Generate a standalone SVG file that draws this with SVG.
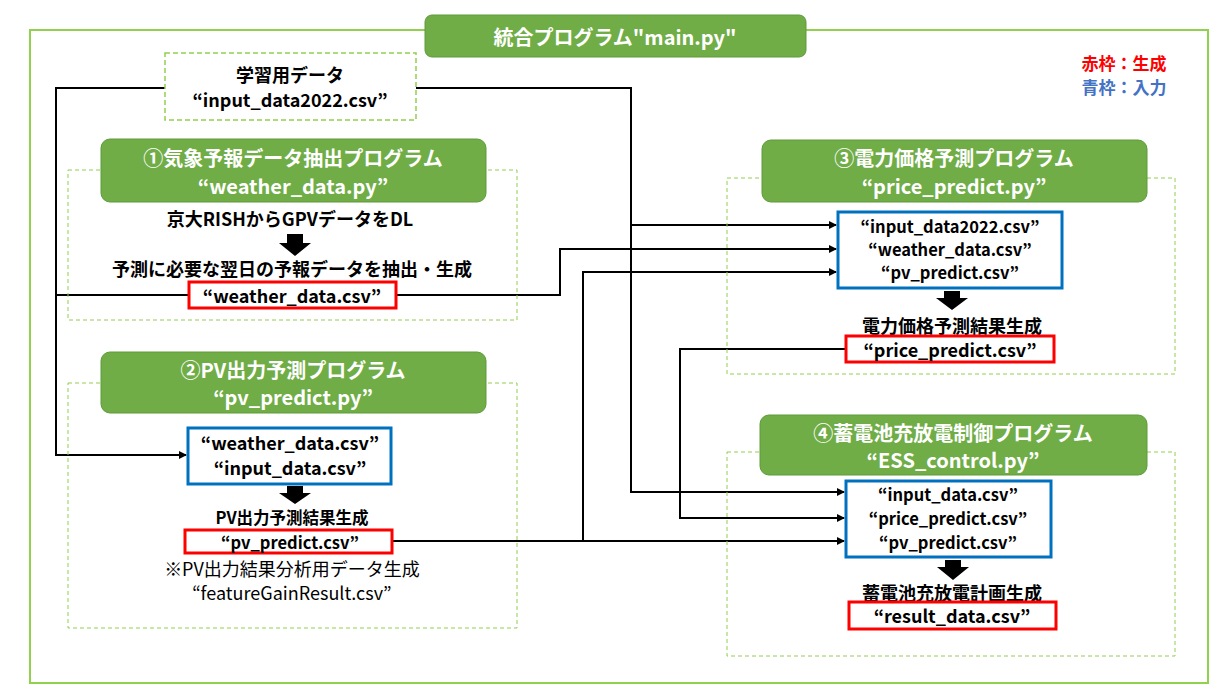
<svg xmlns="http://www.w3.org/2000/svg" width="1230" height="691" viewBox="0 0 1230 691">
<defs>
<marker id="ah" markerWidth="8" markerHeight="8" refX="7" refY="4" orient="auto" markerUnits="userSpaceOnUse"><path d="M0,0 L8,4 L0,8 z" fill="#000"/></marker>
<style>
text{font-family:"Noto Sans CJK JP","Liberation Sans",sans-serif;font-weight:bold;text-anchor:middle;dominant-baseline:central;font-size:18px;fill:#000}
.hd{fill:#70AD47;stroke:#5E9A3A;stroke-width:1}
.hdt{fill:#fff;font-size:20px}
.sm{font-size:16.5px}
.sec{fill:none;stroke:#92D050;stroke-width:1;stroke-dasharray:4 3}
.red{fill:#fff;stroke:#FF0000;stroke-width:3}
.blue{fill:#fff;stroke:#0070C0;stroke-width:3}
.c{fill:none;stroke:#000;stroke-width:2}
.ba{fill:#000}
</style>
</defs>
<rect x="30" y="30" width="1178" height="653" fill="#fff" stroke="#92D050" stroke-width="2"/>
<g id="title"><rect class="hd" x="425" y="15" width="381" height="42" rx="7"/><text class="hdt" x="615" y="36">統合プログラム"main.py"</text></g>
<g id="legend"><text x="1124" y="62" style="fill:#FF0000;font-size:17px">赤枠：生成</text><text x="1124" y="86" style="fill:#4472C4;font-size:17px">青枠：入力</text></g>
<g id="connectors">
<path class="c" d="M165,88 H56 V455 H186" marker-end="url(#ah)"/>
<path class="c" d="M189,295 H56"/>
<path class="c" d="M416,88 H631 V492 H844" marker-end="url(#ah)"/>
<path class="c" d="M631,225 H836" marker-end="url(#ah)"/>
<path class="c" d="M396,295 H560 V249 H836" marker-end="url(#ah)"/>
<path class="c" d="M392,541 H844" marker-end="url(#ah)"/>
<path class="c" d="M583,541 V272 H836" marker-end="url(#ah)"/>
<path class="c" d="M846,349 H680 V518 H844" marker-end="url(#ah)"/>
</g>
<g id="data"><rect x="165" y="53" width="251" height="67" fill="#fff" stroke="#92D050" stroke-width="1.5" stroke-dasharray="5 3"/><text x="290" y="74">学習用データ</text><text x="290" y="99">“input_data2022.csv”</text></g>
<g id="sec1">
<rect class="sec" x="68" y="170" width="449" height="150"/>
<rect class="hd" x="101" y="139" width="385" height="63" rx="9"/>
<text class="hdt" x="293" y="157">①気象予報データ抽出プログラム</text><text class="hdt" x="293" y="185">“weather_data.py”</text>
<text x="290" y="218">京大RISHからGPVデータをDL</text>
<path class="ba" d="M287,234 H303 V243 H311 L295,256 L279,243 H287 z"/>
<text x="292" y="268">予測に必要な翌日の予報データを抽出・生成</text>
<rect class="red" x="189" y="282" width="207" height="26"/><text x="292" y="295">“weather_data.csv”</text>
</g>
<g id="sec2">
<rect class="sec" x="68" y="383" width="449" height="245"/>
<rect class="hd" x="101" y="352" width="385" height="61" rx="9"/>
<text class="hdt" x="293" y="369">②PV出力予測プログラム</text><text class="hdt" x="293" y="396">“pv_predict.py”</text>
<rect class="blue" x="188" y="428" width="203" height="56"/>
<text x="290" y="442">“weather_data.csv”</text><text x="290" y="467">“input_data.csv”</text>
<path class="ba" d="M287,486 H303 V493 H311 L295,504 L279,493 H287 z"/>
<text class="sm" x="292" y="517">PV出力予測結果生成</text>
<rect class="red" x="185" y="530" width="207" height="23"/><text class="sm" x="290" y="542">“pv_predict.csv”</text>
<text x="292" y="568" style="font-weight:normal">※PV出力結果分析用データ生成</text>
<text x="292" y="592" style="font-weight:normal">“featureGainResult.csv”</text>
</g>
<g id="sec3">
<rect class="sec" x="727" y="178" width="448" height="196"/>
<rect class="hd" x="762" y="140" width="385" height="62" rx="9"/>
<text class="hdt" x="954" y="157">③電力価格予測プログラム</text><text class="hdt" x="954" y="185">“price_predict.py”</text>
<rect class="blue" x="838" y="212" width="224" height="76"/>
<text class="sm" x="950" y="226">“input_data2022.csv”</text><text class="sm" x="950" y="249">“weather_data.csv”</text><text class="sm" x="950" y="272">“pv_predict.csv”</text>
<path class="ba" d="M944,291 H960 V298 H968 L952,310 L936,298 H944 z"/>
<text x="952" y="325">電力価格予測結果生成</text>
<rect class="red" x="846" y="336" width="208" height="26"/><text x="950" y="349">“price_predict.csv”</text>
</g>
<g id="sec4">
<rect class="sec" x="727" y="452" width="448" height="204"/>
<rect class="hd" x="760" y="415" width="387" height="60" rx="9"/>
<text class="hdt" x="953" y="432">④蓄電池充放電制御プログラム</text><text class="hdt" x="953" y="459">“ESS_control.py”</text>
<rect class="blue" x="846" y="481" width="205" height="76"/>
<text class="sm" x="948" y="494">“input_data.csv”</text><text class="sm" x="948" y="518">“price_predict.csv”</text><text class="sm" x="948" y="542">“pv_predict.csv”</text>
<path class="ba" d="M945,560 H961 V567 H969 L953,580 L937,567 H945 z"/>
<text x="952" y="592">蓄電池充放電計画生成</text>
<rect class="red" x="849" y="602" width="207" height="27"/><text x="952" y="615">“result_data.csv”</text>
</g>
</svg>
